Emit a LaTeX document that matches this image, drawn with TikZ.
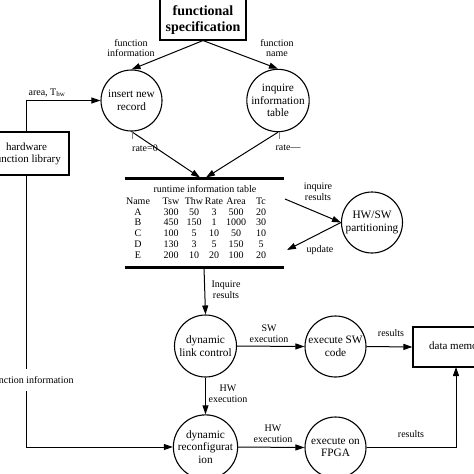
\documentclass[tikz,border=0pt]{standalone}
\usepackage{fontspec}
\setmainfont{Liberation Serif}
\usetikzlibrary{arrows.meta,calc}
\begin{document}
\begin{tikzpicture}[x=1pt,y=-1pt,
  line width=1pt,
  arr/.style={-{Triangle[length=9pt,width=6pt]}},
  circ/.style={circle,draw,line width=1.1pt,inner sep=0pt,align=center,font=\fontsize{11.3}{12.5}\selectfont},
  boxx/.style={rectangle,draw,line width=1.1pt,align=center},
  lbl/.style={align=center,inner sep=1pt,font=\fontsize{10}{10.8}\selectfont},
  cell/.style={inner sep=0pt,font=\fontsize{10}{10}\selectfont}]
\useasboundingbox (0,0) rectangle (474,474);
% nodes
\node[boxx,minimum width=86pt,minimum height=56pt] (spec) at (203,12) {};
\node[align=center,font=\fontsize{14}{16}\selectfont\bfseries] (spect) at (203,20) {functional\\specification};
\node[circ,minimum size=61pt] (ins) at (131.5,100.5) {insert new\\record};
\node[circ,minimum size=60pt] (inq) at (278,100.5) {inquire\\information\\table};
\node[boxx,minimum width=85pt,minimum height=43pt,font=\fontsize{11}{12}\selectfont] (hw) at (26.5,153.5) {hardware\\function library};
\node[inner sep=0pt,minimum width=158pt,minimum height=88pt] (tab) at (204,223) {};
\node[circ,minimum size=61pt] (hwsw) at (372,222.5) {HW/SW\\partitioning};
\node[circ,minimum size=62pt] (dlc) at (205.5,346) {dynamic\\link control};
\node[circ,minimum size=61pt] (esw) at (335.5,346.5) {execute SW\\code};
\node[boxx,minimum width=90pt,minimum height=40pt,font=\fontsize{11}{12}\selectfont] (mem) at (458,347) {data memory};
\node[circ,minimum size=62pt] (dr) at (205.5,447) {dynamic\\reconfigurat\\ion};
\node[circ,minimum size=61pt] (fpga) at (335.5,447.5) {execute on\\FPGA};
% table
\draw[line width=3pt] (tab.north west) -- (tab.north east);
\draw[line width=3pt] (tab.south west) -- (tab.south east);
\node[cell] (ttl) at (205,189) {runtime information table};
\foreach \n/\ts/\th/\ra/\ar/\tc [count=\i from 0] in {Name/Tsw/Thw/Rate/Area/Tc, A/300/50/3/500/20, B/450/150/1/1000/30, C/100/5/10/50/10, D/130/3/5/150/5, E/200/10/20/100/20}{
  \pgfmathsetmacro{\yy}{201+\i*10.8}
  \node[cell] (c\i a) at (138,\yy) {\n};
  \node[cell] (c\i b) at (171,\yy) {\ts};
  \node[cell] (c\i c) at (194,\yy) {\th};
  \node[cell] (c\i d) at (214,\yy) {\ra};
  \node[cell] (c\i e) at (236,\yy) {\ar};
  \node[cell] (c\i f) at (261,\yy) {\tc};
}
% coordinates
\coordinate (t1) at (285,199);
\coordinate (t2) at (287,250);
\coordinate (mb) at (456,367);
\coordinate (k1a) at (132,132); \coordinate (k1b) at (132,139);
\coordinate (k2a) at (279,132); \coordinate (k2b) at (279,139);
% connectors
\draw[arr] (spec.south) -- (ins.north);
\draw[arr] (spec.south) -- (inq.north);
\draw[arr] (hw.north) |- (ins.west);
\draw[arr] (hw.south) |- (dr.west);
\draw[arr] (ins.south) -- ($(tab.north)+(-4,-1)$);
\draw[arr] (inq.south) -- ($(tab.north)+(2,-1)$);
\draw[line width=0.5pt,gray] (k1a) -- (k1b);
\draw[line width=0.5pt,gray] (k2a) -- (k2b);
\draw[arr] (tab.south) -- (dlc.north);
\draw[arr] (t1) -- (hwsw.west);
\draw[arr] (hwsw.west) -- (t2);
\draw[arr] (dlc.east) -- (esw.west);
\draw[arr] (esw.east) -- (mem.west);
\draw[arr] (dlc.south) -- (dr.north);
\draw[arr] (dr.east) -- (fpga.west);
\draw[arr] (fpga.east) -| (mb);
% labels
\node[lbl] (l1) at (131,48) {function\\information};
\node[lbl] (l2) at (277,48) {function\\name};
\node[lbl] (l3) at (47,93) {area, T$_{\mathrm{hw}}$};
\node[lbl] (l4) at (145,148) {rate=0};
\node[lbl] (l5) at (288,148) {rate—};
\node[lbl] (l6) at (318,191.5) {inquire\\results};
\node[lbl] (l7) at (320,250) {update};
\node[lbl] (l8) at (226,290) {Inquire\\results};
\node[lbl] (l9) at (269,333.5) {SW\\execution};
\node[lbl] (l10) at (391,333) {results};
\node[lbl] (l11) at (228,393.5) {HW\\execution};
\node[lbl] (l12) at (273,434) {HW\\execution};
\node[lbl] (l13) at (411,434) {results};
\node[lbl,fill=white,inner ysep=7pt] (l14) at (32,380) {function information};
\end{tikzpicture}
\end{document}
